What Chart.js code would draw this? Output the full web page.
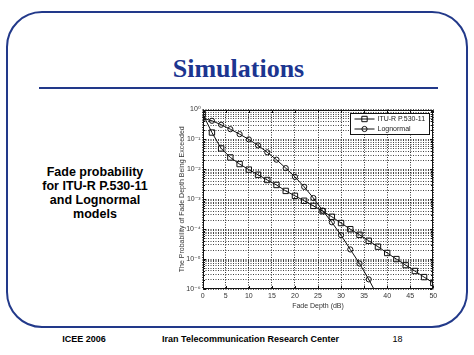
<!DOCTYPE html>
<html><head><meta charset="utf-8">
<script src="https://cdn.jsdelivr.net/npm/chart.js@4"></script>
<style>
html,body{margin:0;padding:0;background:#fff;width:474px;height:355px;overflow:hidden;position:relative;font-family:"Liberation Sans",Arial,sans-serif}
#frame{position:absolute;left:6px;top:11px;width:462px;height:317px;box-sizing:border-box;border:2px solid #22398a;border-radius:36px}
#title{position:absolute;left:0;top:54px;width:477px;text-align:center;font:bold 26px/30px "Liberation Serif","Times New Roman",serif;color:#1c3590}
#rule{position:absolute;left:39px;top:87px;width:399px;height:2px;background:#22398a}
#side{position:absolute;left:33px;top:165px;width:124px;text-align:center;font:bold 12.5px/14px "Liberation Sans",Arial,sans-serif;color:#000}
.foot{position:absolute;top:333px;font:bold 9px/12px "Liberation Sans",Arial,sans-serif;color:#000;text-align:center;white-space:nowrap}
#cv{position:absolute;left:165px;top:100px}
</style></head>
<body>
<div id="frame"></div>
<div id="title">Simulations</div>
<div id="rule"></div>
<div id="side">Fade probability<br>for ITU-R P.530-11<br>and Lognormal<br>models</div>
<div class="foot" style="left:44px;width:80px">ICEE 2006</div>
<div class="foot" style="left:150px;width:201px">Iran Telecommunication Research Center</div>
<div class="foot" style="left:377px;width:41px;font-weight:normal">18</div>
<canvas id="cv" width="280" height="215"></canvas>
<script>
// ---- data ----
const fadeDepthITU = [0,2,4,6,8,10,12,14,16,18,20,22,24,26,28,30,32,34,36,38,40,42,44,46,48,50];
const ituR = [0.71,0.17,0.050,0.025,0.015,0.0098,0.0066,0.0044,0.0030,0.0019,0.0013,8.9e-4,6.0e-4,4.0e-4,2.6e-4,1.6e-4,1.0e-4,6.5e-5,4.1e-5,2.6e-5,1.6e-5,1.0e-5,6.3e-6,4.0e-6,2.5e-6,1.6e-6];
const fadeDepthLogn = [0,2,4,6,8,10,12,14,16,18,20,22,24,26,28,30,32,34,36,38];
const lognormal = [0.51,0.42,0.31,0.22,0.15,0.10,0.063,0.037,0.021,0.011,0.0056,0.0026,0.0011,4.2e-4,1.7e-4,6.3e-5,2.1e-5,7.1e-6,2.1e-6,5.6e-7];
const seriesNames = ['ITU-R P.530-11','Lognormal'];
const xTicks = [0,5,10,15,20,25,30,35,40,45,50];
const yDecades = [-6,-5,-4,-3,-2,-1,0];
const xTitle = 'Fade Depth (dB)';
const yTitle = 'The Probability of Fade Depth Being Exceeded';

const yTickValues = [];
for (const e of yDecades) {
  if (e === 0) { yTickValues.push(1); continue; }
  for (let k = 1; k <= 9; k++) yTickValues.push(+(k * Math.pow(10, e)).toPrecision(6));
}
const SUP = {'0':'⁰','1':'¹','2':'²','3':'³','4':'⁴','5':'⁵','6':'⁶','7':'⁷','8':'⁸','9':'⁹','-':'⁻'};
const isDecade = v => Math.abs(Math.log10(v) - Math.round(Math.log10(v))) < 1e-6;
const decadeLabel = v => '10' + String(Math.round(Math.log10(v))).split('').map(c => SUP[c]).join('');

const FONT = '"Liberation Sans", "DejaVu Sans", Arial, sans-serif';
Chart.defaults.font.family = FONT;
Chart.defaults.font.size = 7;
Chart.defaults.color = '#333';

const boxPlugin = {
  id: 'boxPlugin',
  afterDatasetsDraw(chart) {
    const {ctx, chartArea: a, scales} = chart;
    const L = Math.round(a.left) + 0.5, R = Math.round(a.right) - 0.5;
    const T = Math.round(a.top) + 0.5, B = Math.round(a.bottom) - 0.5;
    ctx.save();
    ctx.strokeStyle = '#111';
    ctx.lineWidth = 1;
    ctx.strokeRect(L, T, R - L, B - T);
    ctx.beginPath();
    for (const v of xTicks) {
      const x = Math.round(scales.x.getPixelForValue(v)) + 0.5;
      ctx.moveTo(x, B); ctx.lineTo(x, B - 2.5);
      ctx.moveTo(x, T); ctx.lineTo(x, T + 2.5);
    }
    for (const v of yTickValues) {
      const y = Math.round(scales.y.getPixelForValue(v)) + 0.5;
      const len = isDecade(v) ? 2.5 : 1.5;
      ctx.moveTo(L, y); ctx.lineTo(L + len, y);
      ctx.moveTo(R, y); ctx.lineTo(R - len, y);
    }
    ctx.stroke();
    ctx.restore();
  },
  afterDraw(chart) {
    const {ctx, chartArea: a} = chart;
    const bx = Math.round(a.right - 83) + 0.5, by = Math.round(a.top + 3.5) + 0.5;
    const bw = 79, bh = 21;
    ctx.save();
    ctx.fillStyle = '#fff';
    ctx.fillRect(bx, by, bw, bh);
    ctx.strokeStyle = '#111';
    ctx.lineWidth = 1;
    ctx.strokeRect(bx, by, bw, bh);
    chart.data.datasets.forEach((ds, i) => {
      const y = by + 5.5 + i * 10;
      ctx.beginPath();
      ctx.strokeStyle = ds.borderColor;
      ctx.lineWidth = 1;
      ctx.moveTo(bx + 4, y); ctx.lineTo(bx + 24, y);
      ctx.stroke();
      ctx.fillStyle = 'rgba(0,0,0,0)';
      ctx.strokeStyle = ds.pointBorderColor;
      ctx.lineWidth = 1;
      Chart.helpers.drawPoint(ctx, {pointStyle: ds.pointStyle, radius: ds.pointRadius, borderWidth: 1, rotation: 0}, bx + 14, y);
      ctx.fillStyle = '#222';
      ctx.font = '7px ' + FONT;
      ctx.textBaseline = 'middle';
      ctx.textAlign = 'left';
      ctx.fillText(ds.label, bx + 27, y);
    });
    ctx.restore();
  }
};

new Chart(document.getElementById('cv'), {
  type: 'line',
  data: {
    datasets: [
      {
        label: seriesNames[0],
        data: fadeDepthITU.map((x, i) => ({x, y: ituR[i]})),
        borderColor: '#111', borderWidth: 1,
        pointStyle: 'rect', pointRadius: 3.8,
        pointBorderColor: '#111', pointBackgroundColor: 'rgba(0,0,0,0)', pointBorderWidth: 1,
        tension: 0
      },
      {
        label: seriesNames[1],
        data: fadeDepthLogn.map((x, i) => ({x, y: lognormal[i]})),
        borderColor: '#111', borderWidth: 1,
        pointStyle: 'circle', pointRadius: 2.6,
        pointBorderColor: '#111', pointBackgroundColor: 'rgba(0,0,0,0)', pointBorderWidth: 1,
        tension: 0
      }
    ]
  },
  options: {
    responsive: false,
    animation: false,
    devicePixelRatio: 1,
    layout: {padding: {left: 0, top: 9.5, right: 11.7, bottom: 0}},
    plugins: {legend: {display: false}, tooltip: {enabled: false}},
    scales: {
      x: {
        type: 'linear', min: 0, max: 50,
        afterBuildTicks: s => { s.ticks = xTicks.map(v => ({value: v})); },
        afterFit: s => { s.height = 26; },
        ticks: {autoSkip: false, maxRotation: 0, padding: 3, color: '#333'},
        grid: {color: 'rgba(20,20,20,0.85)', lineWidth: 1, drawTicks: false},
        border: {display: false, dash: [1, 1.5]},
        title: {display: true, text: xTitle, color: '#333', font: {size: 7}, padding: {top: 0, bottom: 5}}
      },
      y: {
        type: 'logarithmic', min: 1e-6, max: 1,
        afterBuildTicks: s => { s.ticks = yTickValues.map(v => ({value: v, major: isDecade(v)})); },
        afterFit: s => { s.width = 37.7; },
        ticks: {autoSkip: false, padding: 2, color: '#333', callback: v => isDecade(v) ? decadeLabel(v) : ''},
        grid: {color: 'rgba(20,20,20,0.8)', lineWidth: 1, drawTicks: false},
        border: {display: false, dash: [1, 1.5]},
        title: {display: true, text: yTitle, color: '#333', font: {size: 7}, padding: {top: 13, bottom: 0}}
      }
    }
  },
  plugins: [boxPlugin]
});
</script>
</body></html>
